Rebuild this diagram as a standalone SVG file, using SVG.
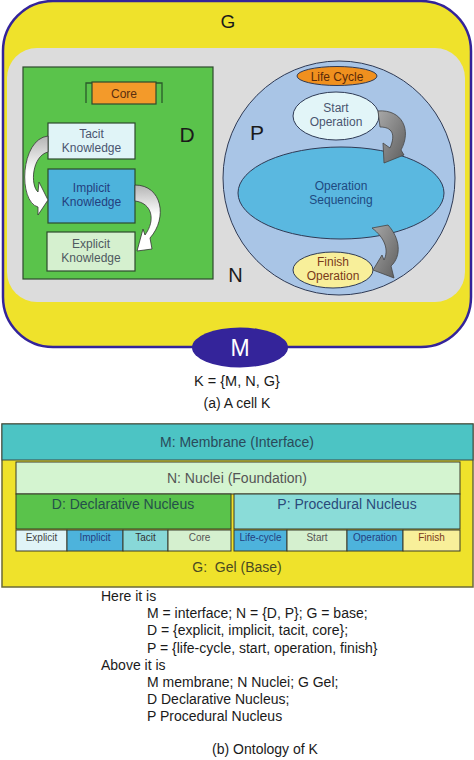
<svg xmlns="http://www.w3.org/2000/svg" width="474" height="760" viewBox="0 0 474 760">
<defs>
<style>
text { font-family: "Liberation Sans", Arial, sans-serif; }
.big { font-size:20px; fill:#1a1a1a; text-anchor:middle; }
.nt { font-size:12px; text-anchor:middle; }
.tb { font-size:14px; text-anchor:middle; }
.cell { font-size:10px; text-anchor:middle; }
.blk { font-size:14px; fill:#1a1a1a; }
.cap { font-size:14px; fill:#1a1a1a; text-anchor:middle; }
.box { stroke:#2e4a2e; stroke-width:1.2; }
.ell { stroke:#2e3a55; stroke-width:1; }
.tbox { stroke:#3a3a2a; stroke-width:1; }
.warr { fill:url(#gw); stroke:#333; stroke-width:0.8; }
.garr { fill:url(#gg); stroke:#444; stroke-width:0.8; }
</style>
<linearGradient id="gw" x1="0" y1="0" x2="0" y2="1">
<stop offset="0" stop-color="#b4b4b4"/><stop offset="0.45" stop-color="#ffffff"/><stop offset="1" stop-color="#ffffff"/>
</linearGradient>
<linearGradient id="gg" x1="0" y1="0" x2="1" y2="1">
<stop offset="0" stop-color="#a8a8a8"/><stop offset="1" stop-color="#5e5e5e"/>
</linearGradient>
</defs>

<g id="cell-G">
<rect x="3" y="1" width="468" height="346" rx="50" fill="#efe22b" stroke="#34249a" stroke-width="2.5"/>
<text class="big" x="228" y="28" style="font-size:19px">G</text>
</g>
<g id="nuclei-N">
<rect x="7" y="48" width="458" height="254" rx="30" fill="#dcdcdc"/>
<text class="big" x="235.5" y="282">N</text>
</g>
<g id="nucleus-D">
<rect class="box" x="23" y="67" width="190" height="212" fill="#5ac34b"/>
<text class="big" x="187" y="142" style="font-size:21px">D</text>
</g>
<g id="core">
<path d="M92 83 H86 V103 M156 83 H162 V103" fill="none" stroke="#2a5a2a" stroke-width="1.3"/>
<rect class="box" x="92" y="82" width="64" height="22" fill="#f39a2a" stroke="#5a3a1a"/>
<text class="nt" x="124" y="97.5" fill="#5a2e10">Core</text>
</g>
<g id="tacit">
<rect class="box" x="48" y="123" width="87" height="36" fill="#e0f4f7"/>
<text class="nt" x="91.5" y="138" fill="#4a5570">Tacit</text>
<text class="nt" x="91.5" y="152" fill="#4a5570">Knowledge</text>
</g>
<g id="implicit">
<rect class="box" x="48" y="169" width="87" height="54" fill="#4db3dc"/>
<text class="nt" x="91.5" y="192" fill="#24407e">Implicit</text>
<text class="nt" x="91.5" y="206" fill="#24407e">Knowledge</text>
</g>
<g id="explicit">
<rect class="box" x="47" y="232" width="88" height="39" fill="#d5f0cf"/>
<text class="nt" x="91" y="248" fill="#4f5a60">Explicit</text>
<text class="nt" x="91" y="262" fill="#4f5a60">Knowledge</text>
</g>
<g id="nucleus-P">
<ellipse class="ell" cx="339" cy="178" rx="116" ry="117" fill="#a9c5e6"/>
<text class="big" x="257" y="140" style="font-size:21px">P</text>
</g>
<g id="life-cycle">
<ellipse class="ell" cx="337" cy="76" rx="40" ry="9.5" fill="#f0901e"/>
<text class="nt" x="337" y="80.5" fill="#5a2a0a">Life Cycle</text>
</g>
<g id="start-operation">
<ellipse class="ell" cx="336" cy="116" rx="43" ry="24" fill="#e2f5f8"/>
<text class="nt" x="336" y="112" fill="#4a5570">Start</text>
<text class="nt" x="336" y="126" fill="#4a5570">Operation</text>
</g>
<g id="operation-sequencing">
<ellipse class="ell" cx="341" cy="193" rx="103" ry="46" fill="#5ab8e0"/>
<text class="nt" x="341" y="190" fill="#1e4a80">Operation</text>
<text class="nt" x="341" y="204" fill="#1e4a80">Sequencing</text>
</g>
<g id="finish-operation">
<ellipse class="ell" cx="333" cy="270" rx="40" ry="18" fill="#f8ef9a"/>
<text class="nt" x="333" y="266" fill="#7a3a1a">Finish</text>
<text class="nt" x="333" y="280" fill="#7a3a1a">Operation</text>
</g>
<g id="membrane-M">
<ellipse cx="240" cy="347.5" rx="48" ry="20" fill="#34249a"/>
<text x="240" y="356" style="font-size:23px" fill="#ffffff" text-anchor="middle">M</text>
</g>
<g id="connectors">
<path class="warr" d="M48 136 C20 139 18 202 38 207 L38 215 L48 200 L39 182 L38 192 C30 185 32 156 48 152 Z"/>
<path class="warr" d="M135 185 C162 185 168 218 150 238 L152 249 L137 251 L143 229 L145 235 C156 220 152 203 135 201 Z"/>
<path class="garr" d="M378 111 C402 109 412 130 401 150 L404 155 L384 163 L383 143 L390 148 C396 134 392 127 380 127 Z"/>
<path class="garr" d="M372 228 L388 225 C400 238 402 256 391 266 L394 278 L373 270 L382 255 L384 260 C389 250 385 238 372 228 Z"/>
</g>
<g id="caption-a">
<text class="cap" x="237" y="386" style="font-size:14.5px">K = {M, N, G}</text>
<text class="cap" x="237" y="408">(a) A cell K</text>
</g>

<g id="table-G">
<rect x="2" y="424" width="471" height="163" fill="#efe22b" stroke="#6a6a3a" stroke-width="1.5"/>
<text class="tb" x="237" y="572" fill="#4a4a22">G:&#160; Gel (Base)</text>
</g>
<g id="table-M">
<rect x="2" y="424" width="471" height="36" fill="#4cc4c4" stroke="#3a4a4a" stroke-width="1"/>
<text class="tb" x="237" y="447" fill="#2a4a5a">M: Membrane (Interface)</text>
</g>
<g id="table-N">
<rect class="tbox" x="16" y="462" width="444" height="32" fill="#d4f4d0"/>
<text class="tb" x="237" y="483" fill="#555">N: Nuclei (Foundation)</text>
</g>
<g id="table-D">
<rect class="tbox" x="16" y="494" width="215" height="35" fill="#5ac34b"/>
<text class="tb" x="123" y="509" fill="#24504a">D: Declarative Nucleus</text>
</g>
<g id="table-P">
<rect class="tbox" x="234" y="494" width="226" height="35" fill="#8adcd8"/>
<text class="tb" x="347" y="509" fill="#2a4a7a">P: Procedural Nucleus</text>
</g>
<g id="cell-explicit"><rect class="tbox" x="16" y="530" width="51" height="21" fill="#e0f4f7"/><text class="cell" x="41.5" y="541" fill="#444">Explicit</text></g>
<g id="cell-implicit"><rect class="tbox" x="67" y="530" width="56" height="21" fill="#4db3dc"/><text class="cell" x="95" y="541" fill="#24407e">Implicit</text></g>
<g id="cell-tacit"><rect class="tbox" x="123" y="530" width="45" height="21" fill="#88d8d8"/><text class="cell" x="145.5" y="541" fill="#333">Tacit</text></g>
<g id="cell-core"><rect class="tbox" x="168" y="530" width="63" height="21" fill="#d5f0cf"/><text class="cell" x="199.5" y="541" fill="#555">Core</text></g>
<g id="cell-lifecycle"><rect class="tbox" x="234" y="530" width="53" height="21" fill="#4db3dc"/><text class="cell" x="260.5" y="541" fill="#24407e">Life-cycle</text></g>
<g id="cell-start"><rect class="tbox" x="287" y="530" width="60" height="21" fill="#d5f0cf"/><text class="cell" x="317" y="541" fill="#555">Start</text></g>
<g id="cell-operation"><rect class="tbox" x="347" y="530" width="56" height="21" fill="#4db3dc"/><text class="cell" x="375" y="541" fill="#24407e">Operation</text></g>
<g id="cell-finish"><rect class="tbox" x="403" y="530" width="57" height="21" fill="#f8ef9a"/><text class="cell" x="431.5" y="541" fill="#7a3a1a">Finish</text></g>

<g id="ontology-text">
<text class="blk" x="101" y="601">Here it is</text>
<text class="blk" x="147" y="618.2">M = interface; N = {D, P}; G = base;</text>
<text class="blk" x="147" y="635.4">D = {explicit, implicit, tacit, core};</text>
<text class="blk" x="147" y="652.6">P = {life-cycle, start, operation, finish}</text>
<text class="blk" x="101" y="669.8">Above it is</text>
<text class="blk" x="147" y="687">M membrane; N Nuclei; G Gel;</text>
<text class="blk" x="147" y="704.2">D Declarative Nucleus;</text>
<text class="blk" x="147" y="721.4">P Procedural Nucleus</text>
<text class="cap" x="265" y="754">(b) Ontology of K</text>
</g>
</svg>
